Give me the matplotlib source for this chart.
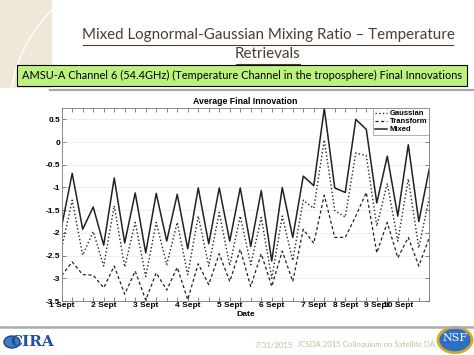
import matplotlib.pyplot as plt
from matplotlib.patches import Rectangle, Circle, Arc
import numpy as np

plt.rcParams['axes.unicode_minus'] = False

# average final innovation per analysis cycle (4 per day, some missing after 7 Sept)
mixed = [-1.85, -0.69, -1.92, -1.43, -2.27, -0.79, -2.22, -1.12, -2.44, -1.13,
         -2.18, -1.15, -2.35, -1.01, -2.24, -1.01, -2.18, -1.01, -2.30, -1.07,
         -2.62, -1.00, -2.10, -0.75, -0.96, 0.74, -1.01, -1.11, 0.50, 0.28,
         -1.34, -0.31, -1.63, -0.06, -1.75, -0.59]
gaussian = [-2.33, -1.28, -2.49, -1.97, -2.73, -1.40, -2.75, -1.77, -2.96, -1.77,
            -2.70, -1.77, -2.92, -1.63, -2.73, -1.55, -2.72, -1.63, -2.70, -1.66,
            -3.00, -1.63, -2.61, -1.28, -1.46, 0.05, -1.51, -1.65, -0.24, -0.30,
            -1.85, -0.91, -2.18, -0.81, -2.33, -1.22]
transform = [-2.94, -2.64, -2.92, -2.93, -3.21, -2.73, -3.35, -2.84, -3.48, -2.88,
             -3.26, -2.76, -3.47, -2.68, -3.14, -2.46, -3.07, -2.36, -3.18, -2.46,
             -3.18, -2.40, -3.07, -1.92, -2.23, -1.17, -2.10, -2.10, -1.63, -1.11,
             -2.44, -1.77, -2.55, -2.10, -2.73, -2.10]
day_labels = ["1 Sept", "2 Sept", "3 Sept", "4 Sept", "5 Sept", "6 Sept",
              "7 Sept", "8 Sept", "9 Sept", "10 Sept"]
day_pos = [0, 4, 8, 12, 16, 20, 24, 27, 30, 32]

W, H = 474, 355
fig = plt.figure(figsize=(W / 100, H / 100), dpi=100)
fig.patch.set_facecolor("white")

# slide decoration, top left
panel = Rectangle((0, 1 - 88 / H), 52 / W, 88 / H, transform=fig.transFigure,
                  facecolor="#efe7d8", edgecolor="none")
fig.patches.append(panel)
for cx, cy, r in [(150, 110, 140), (95, 240, 45)]:
    a = Arc((cx / W, 1 - cy / H), 2 * r / W, 2 * r / H, transform=fig.transFigure,
            color="#fbf8f2", lw=1.5)
    a.set_clip_path(panel)
    fig.patches.append(a)

# title
tcol = "#4d3d30"
fig.text(268 / W, 1 - 35 / H, "Mixed Lognormal-Gaussian Mixing Ratio \u2013 Temperature",
         ha="center", va="center", fontsize=10.9, color=tcol, family="Lato")
fig.text(268 / W, 1 - 54 / H, "Retrievals", ha="center", va="center", fontsize=10.9,
         color=tcol, family="Lato")
fig.add_artist(plt.Line2D([83 / W, 453 / W], [1 - 44.5 / H] * 2, color=tcol, lw=0.8))
fig.add_artist(plt.Line2D([236 / W, 300 / W], [1 - 63.5 / H] * 2, color=tcol, lw=0.8))

# green banner
fig.patches.append(Rectangle((17 / W, 1 - 86 / H), 450 / W, 21 / H, transform=fig.transFigure,
                             facecolor="#bdf27f", edgecolor="black", lw=0.8))
fig.text(242 / W, 1 - 75.5 / H,
         "AMSU-A Channel 6 (54.4GHz) (Temperature Channel in the troposphere) Final Innovations",
         ha="center", va="center", fontsize=7.95, family="Lato", color="black")

# separator lines
fig.add_artist(plt.Line2D([50 / W, 1], [1 - 89.5 / H] * 2, color="#a8a8a8", lw=1.6))
fig.add_artist(plt.Line2D([0, 1], [1 - 327 / H] * 2, color="#acacac", lw=1.8))

# chart
cf = "Liberation Sans"
ax = fig.add_axes([61.7 / W, 1 - 301 / H, 367.6 / W, 193 / H])
x = np.arange(len(mixed))
lc = "#222222"
ax.plot(x, gaussian, ":", color=lc, lw=1.0, label="Gaussian")
ax.plot(x, transform, "--", color=lc, lw=0.9, dashes=(2.5, 2), label="Transform")
ax.plot(x, mixed, "-", color=lc, lw=1.1, label="Mixed")
ax.set_xlim(0, len(mixed) - 1)
ax.set_ylim(-3.5, 0.75)
ax.set_yticks(np.arange(-3.5, 0.51, 0.5))
ax.set_yticklabels(["%g" % v for v in np.arange(-3.5, 0.51, 0.5)])
labels = [""] * len(mixed)
for p, lab in zip(day_pos, day_labels):
    labels[p] = lab
ax.set_xticks(x)
ax.set_xticklabels(labels)
ax.tick_params(direction="in", top=True, right=True, length=3, width=0.5,
               labelsize=6.0, pad=1, colors="#555555", labelcolor="black")
for t in ax.get_xticklabels() + ax.get_yticklabels():
    t.set_fontweight("bold")
    t.set_family(cf)
ax.grid(axis="y", color="#ececec", lw=0.6)
for s in ax.spines.values():
    s.set_color("#777777")
    s.set_linewidth(0.6)
ax.set_title("Average Final Innovation", fontsize=6.3, fontweight="bold", pad=3, family=cf)
ax.set_xlabel("Date", fontsize=6.1, fontweight="bold", labelpad=1.5, family=cf)
leg = ax.legend(loc="upper right", frameon=True, fancybox=False,
                prop={"family": cf, "weight": "bold", "size": 5.5},
                borderpad=0.25, labelspacing=0.1, handlelength=1.6, handletextpad=0.3,
                borderaxespad=0)
leg.get_frame().set_edgecolor("#777777")
leg.get_frame().set_linewidth(0.5)

# footer
fig.text(274 / W, 1 - 345 / H, "7/31/2015", ha="center", va="center", fontsize=5.6,
         color="#c9b99c", family="Lato")
fig.text(366 / W, 1 - 345 / H, "JCSDA 2015 Colloquium on Satellite DA", ha="center",
         va="center", fontsize=5.6, color="#c9b99c", family="Lato")

# logos
fig.patches.append(Circle((12 / W, 1 - 342 / H), 8 / W, transform=fig.transFigure,
                          facecolor="#3f7fbf", edgecolor="#1f3f8f", lw=1))
fig.text(32 / W, 1 - 342 / H, "CIRA", ha="center", va="center", fontsize=11,
         fontweight="bold", color="#1f4f9f", family="DejaVu Serif")
fig.patches.append(Circle((455 / W, 1 - 340 / H), 17 / W, transform=fig.transFigure,
                          facecolor="#2f6fbf", edgecolor="#d4a92a", lw=2))
fig.text(455 / W, 1 - 338 / H, "NSF", ha="center", va="center", fontsize=8,
         color="white", family="DejaVu Serif")

fig.savefig("out.png", dpi=100)
